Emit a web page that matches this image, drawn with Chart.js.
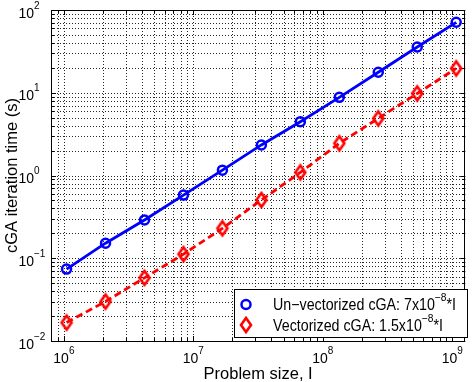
<!DOCTYPE html>
<html><head><meta charset="utf-8">
<script src="https://cdn.jsdelivr.net/npm/chart.js@4/dist/chart.umd.min.js"></script>
<style>html,body{margin:0;padding:0;background:#fff;}canvas{display:block;}</style>
</head><body>
<canvas id="c" width="474" height="382"></canvas>
<script>
// ---- data ----
const problemSizes = [1048576, 2097152, 4194304, 8388608, 16777216, 33554432, 67108864, 134217728, 268435456, 536870912, 1073741824];
const unvectorizedTimes = [0.074, 0.152, 0.29, 0.58, 1.16, 2.34, 4.47, 8.8, 17.7, 35.7, 71];
const vectorizedTimes = [0.0167, 0.030, 0.058, 0.112, 0.23, 0.506, 1.09, 2.45, 4.9, 9.8, 19.7];
const seriesNames = ["Un\u2212vectorized cGA: 7x10", "Vectorized cGA: 1.5x10"];
const seriesExponents = ["\u22128", "\u22128"];
const seriesSuffix = ["*I", "*I"];
const xTickExponents = ["6", "7", "8", "9"];
const yTickExponents = ["\u22122", "\u22121", "0", "1", "2"];
const xTitle = "Problem size, I";
const yTitle = "cGA iteration time (s)";
const xLimits = [7.95e5, 1.26e9];
const yLimits = [0.01, 100];

const FONT = '"Liberation Sans", Arial, sans-serif';

// diamond marker
function makeDiamond(color) {
  const c = document.createElement('canvas');
  c.width = 16; c.height = 20;
  const g = c.getContext('2d');
  g.strokeStyle = color; g.lineWidth = 2.6; g.lineJoin = 'miter';
  g.beginPath();
  g.moveTo(8, 3); g.lineTo(13, 10); g.lineTo(8, 17); g.lineTo(3, 10); g.closePath();
  g.stroke();
  return c;
}
const diamond = makeDiamond('#ff0000');

function gridValues(lim) {
  const vals = [];
  const lo = Math.floor(Math.log10(lim[0])), hi = Math.ceil(Math.log10(lim[1]));
  for (let e = lo; e <= hi; e++) {
    for (let m = 1; m <= 9; m++) {
      const v = m * Math.pow(10, e);
      if (v >= lim[0] * 0.9999 && v <= lim[1] * 1.0001) vals.push({v, major: m === 1});
    }
  }
  return vals;
}

function drawSup(ctx, base, sup, x, y, align, bSize, sSize, rise) {
  ctx.font = bSize + 'px ' + FONT;
  const w1 = ctx.measureText(base).width;
  ctx.font = sSize + 'px ' + FONT;
  const w2 = ctx.measureText(sup).width;
  let sx = x;
  if (align === 'center') sx = x - (w1 + w2) / 2;
  ctx.textAlign = 'left';
  ctx.textBaseline = 'alphabetic';
  ctx.font = bSize + 'px ' + FONT;
  ctx.fillText(base, sx, y);
  ctx.font = sSize + 'px ' + FONT;
  ctx.fillText(sup, sx + w1, y - rise);
}

const matlabAxes = {
  id: 'matlabAxes',
  beforeDatasetsDraw(chart) {
    const ctx = chart.ctx, a = chart.chartArea;
    const xs = chart.scales.x, ys = chart.scales.y;
    ctx.save();
    ctx.strokeStyle = 'rgba(0,0,0,0.85)';
    ctx.lineWidth = 1;
    ctx.setLineDash([1, 2]);
    gridValues(xLimits).forEach(t => {
      const px = Math.round(xs.getPixelForValue(t.v)) + 0.5;
      ctx.beginPath(); ctx.moveTo(px, a.top); ctx.lineTo(px, a.bottom); ctx.stroke();
    });
    gridValues(yLimits).forEach(t => {
      const py = Math.round(ys.getPixelForValue(t.v)) + 0.5;
      ctx.beginPath(); ctx.moveTo(a.left, py); ctx.lineTo(a.right, py); ctx.stroke();
    });
    ctx.setLineDash([]);
    ctx.strokeStyle = '#000';
    gridValues(xLimits).forEach(t => {
      const px = Math.round(xs.getPixelForValue(t.v)) + 0.5;
      const L = t.major ? 5 : 3;
      ctx.beginPath();
      ctx.moveTo(px, a.bottom); ctx.lineTo(px, a.bottom - L);
      ctx.moveTo(px, a.top); ctx.lineTo(px, a.top + L);
      ctx.stroke();
    });
    gridValues(yLimits).forEach(t => {
      const py = Math.round(ys.getPixelForValue(t.v)) + 0.5;
      const L = t.major ? 5 : 3;
      ctx.beginPath();
      ctx.moveTo(a.left, py); ctx.lineTo(a.left + L, py);
      ctx.moveTo(a.right, py); ctx.lineTo(a.right - L, py);
      ctx.stroke();
    });
    ctx.restore();
  },
  afterDraw(chart) {
    const ctx = chart.ctx, a = chart.chartArea;
    const xs = chart.scales.x, ys = chart.scales.y;
    ctx.save();
    // frame
    ctx.strokeStyle = '#000'; ctx.lineWidth = 1;
    ctx.strokeRect(Math.round(a.left) + 0.5, Math.round(a.top) + 0.5, Math.round(a.right - a.left) - 1, Math.round(a.bottom - a.top));
    ctx.fillStyle = '#000';
    // x tick labels
    xTickExponents.forEach(e => {
      const v = Math.pow(10, parseFloat(e));
      const px = xs.getPixelForValue(v);
      drawSup(ctx, '10', e, px, 363, 'center', 14, 10, 9.5);
    });
    // y tick labels
    yTickExponents.forEach(e => {
      const v = Math.pow(10, parseFloat(e.replace('\u2212', '-')));
      const py = ys.getPixelForValue(v);
      ctx.font = '14px ' + FONT;
      const w = ctx.measureText('10').width;
      drawSup(ctx, '10', e, 34 - w, py + 7.5, 'left', 14, 10, 9);
    });
    // titles
    ctx.font = '16.5px ' + FONT;
    ctx.textAlign = 'center'; ctx.textBaseline = 'alphabetic';
    ctx.fillText(xTitle, (a.left + a.right) / 2, 379);
    ctx.save();
    ctx.translate(17, (a.top + a.bottom) / 2);
    ctx.rotate(-Math.PI / 2);
    ctx.fillText(yTitle, 0, 0);
    ctx.restore();
    // legend
    const bx = 234.5, by = 289.5, bw = 233, bh = 48;
    ctx.fillStyle = '#fff';
    ctx.fillRect(bx, by, bw, bh);
    ctx.strokeStyle = '#000'; ctx.lineWidth = 1;
    ctx.strokeRect(bx, by, bw, bh);
    const rows = [304.5, 325];
    // markers
    ctx.strokeStyle = '#0000ff'; ctx.lineWidth = 2.5;
    ctx.beginPath(); ctx.arc(246, rows[0], 4.5, 0, Math.PI * 2); ctx.stroke();
    ctx.drawImage(diamond, 246 - 8, rows[1] - 10);
    ctx.fillStyle = '#000';
    const sx = 0.89;
    seriesNames.forEach((name, i) => {
      ctx.save();
      ctx.translate(273, rows[i] + 5.5);
      ctx.scale(sx, 1);
      ctx.textAlign = 'left'; ctx.textBaseline = 'alphabetic';
      ctx.font = '16px ' + FONT;
      ctx.fillText(name, 0, 0);
      let x = ctx.measureText(name).width;
      ctx.font = '11.5px ' + FONT;
      ctx.fillText(seriesExponents[i], x, -9);
      x += ctx.measureText(seriesExponents[i]).width;
      ctx.font = '16px ' + FONT;
      ctx.fillText(seriesSuffix[i], x, 0);
      ctx.restore();
    });
    ctx.restore();
  }
};

new Chart(document.getElementById('c'), {
  type: 'line',
  data: {
    datasets: [
      {
        label: seriesNames[0] + seriesExponents[0] + seriesSuffix[0],
        data: problemSizes.map((x, i) => ({x, y: unvectorizedTimes[i]})),
        borderColor: '#0000ff', borderWidth: 2.8,
        pointStyle: 'circle', pointRadius: 4.5, pointBorderWidth: 2.5,
        pointBorderColor: '#0000ff', pointBackgroundColor: 'rgba(0,0,0,0)',
        fill: false, tension: 0
      },
      {
        label: seriesNames[1] + seriesExponents[1] + seriesSuffix[1],
        data: problemSizes.map((x, i) => ({x, y: vectorizedTimes[i]})),
        borderColor: '#ff0000', borderWidth: 2.8, borderDash: [7, 4],
        pointStyle: diamond, pointRadius: 6,
        fill: false, tension: 0
      }
    ]
  },
  options: {
    responsive: false, animation: false, devicePixelRatio: 1,
    layout: {padding: {left: 51, top: 10, right: 2, bottom: 41}},
    plugins: {legend: {display: false}, tooltip: {enabled: false}},
    scales: {
      x: {type: 'logarithmic', min: xLimits[0], max: xLimits[1], display: false},
      y: {type: 'logarithmic', min: yLimits[0], max: yLimits[1], display: false}
    }
  },
  plugins: [matlabAxes]
});
</script>
</body></html>
